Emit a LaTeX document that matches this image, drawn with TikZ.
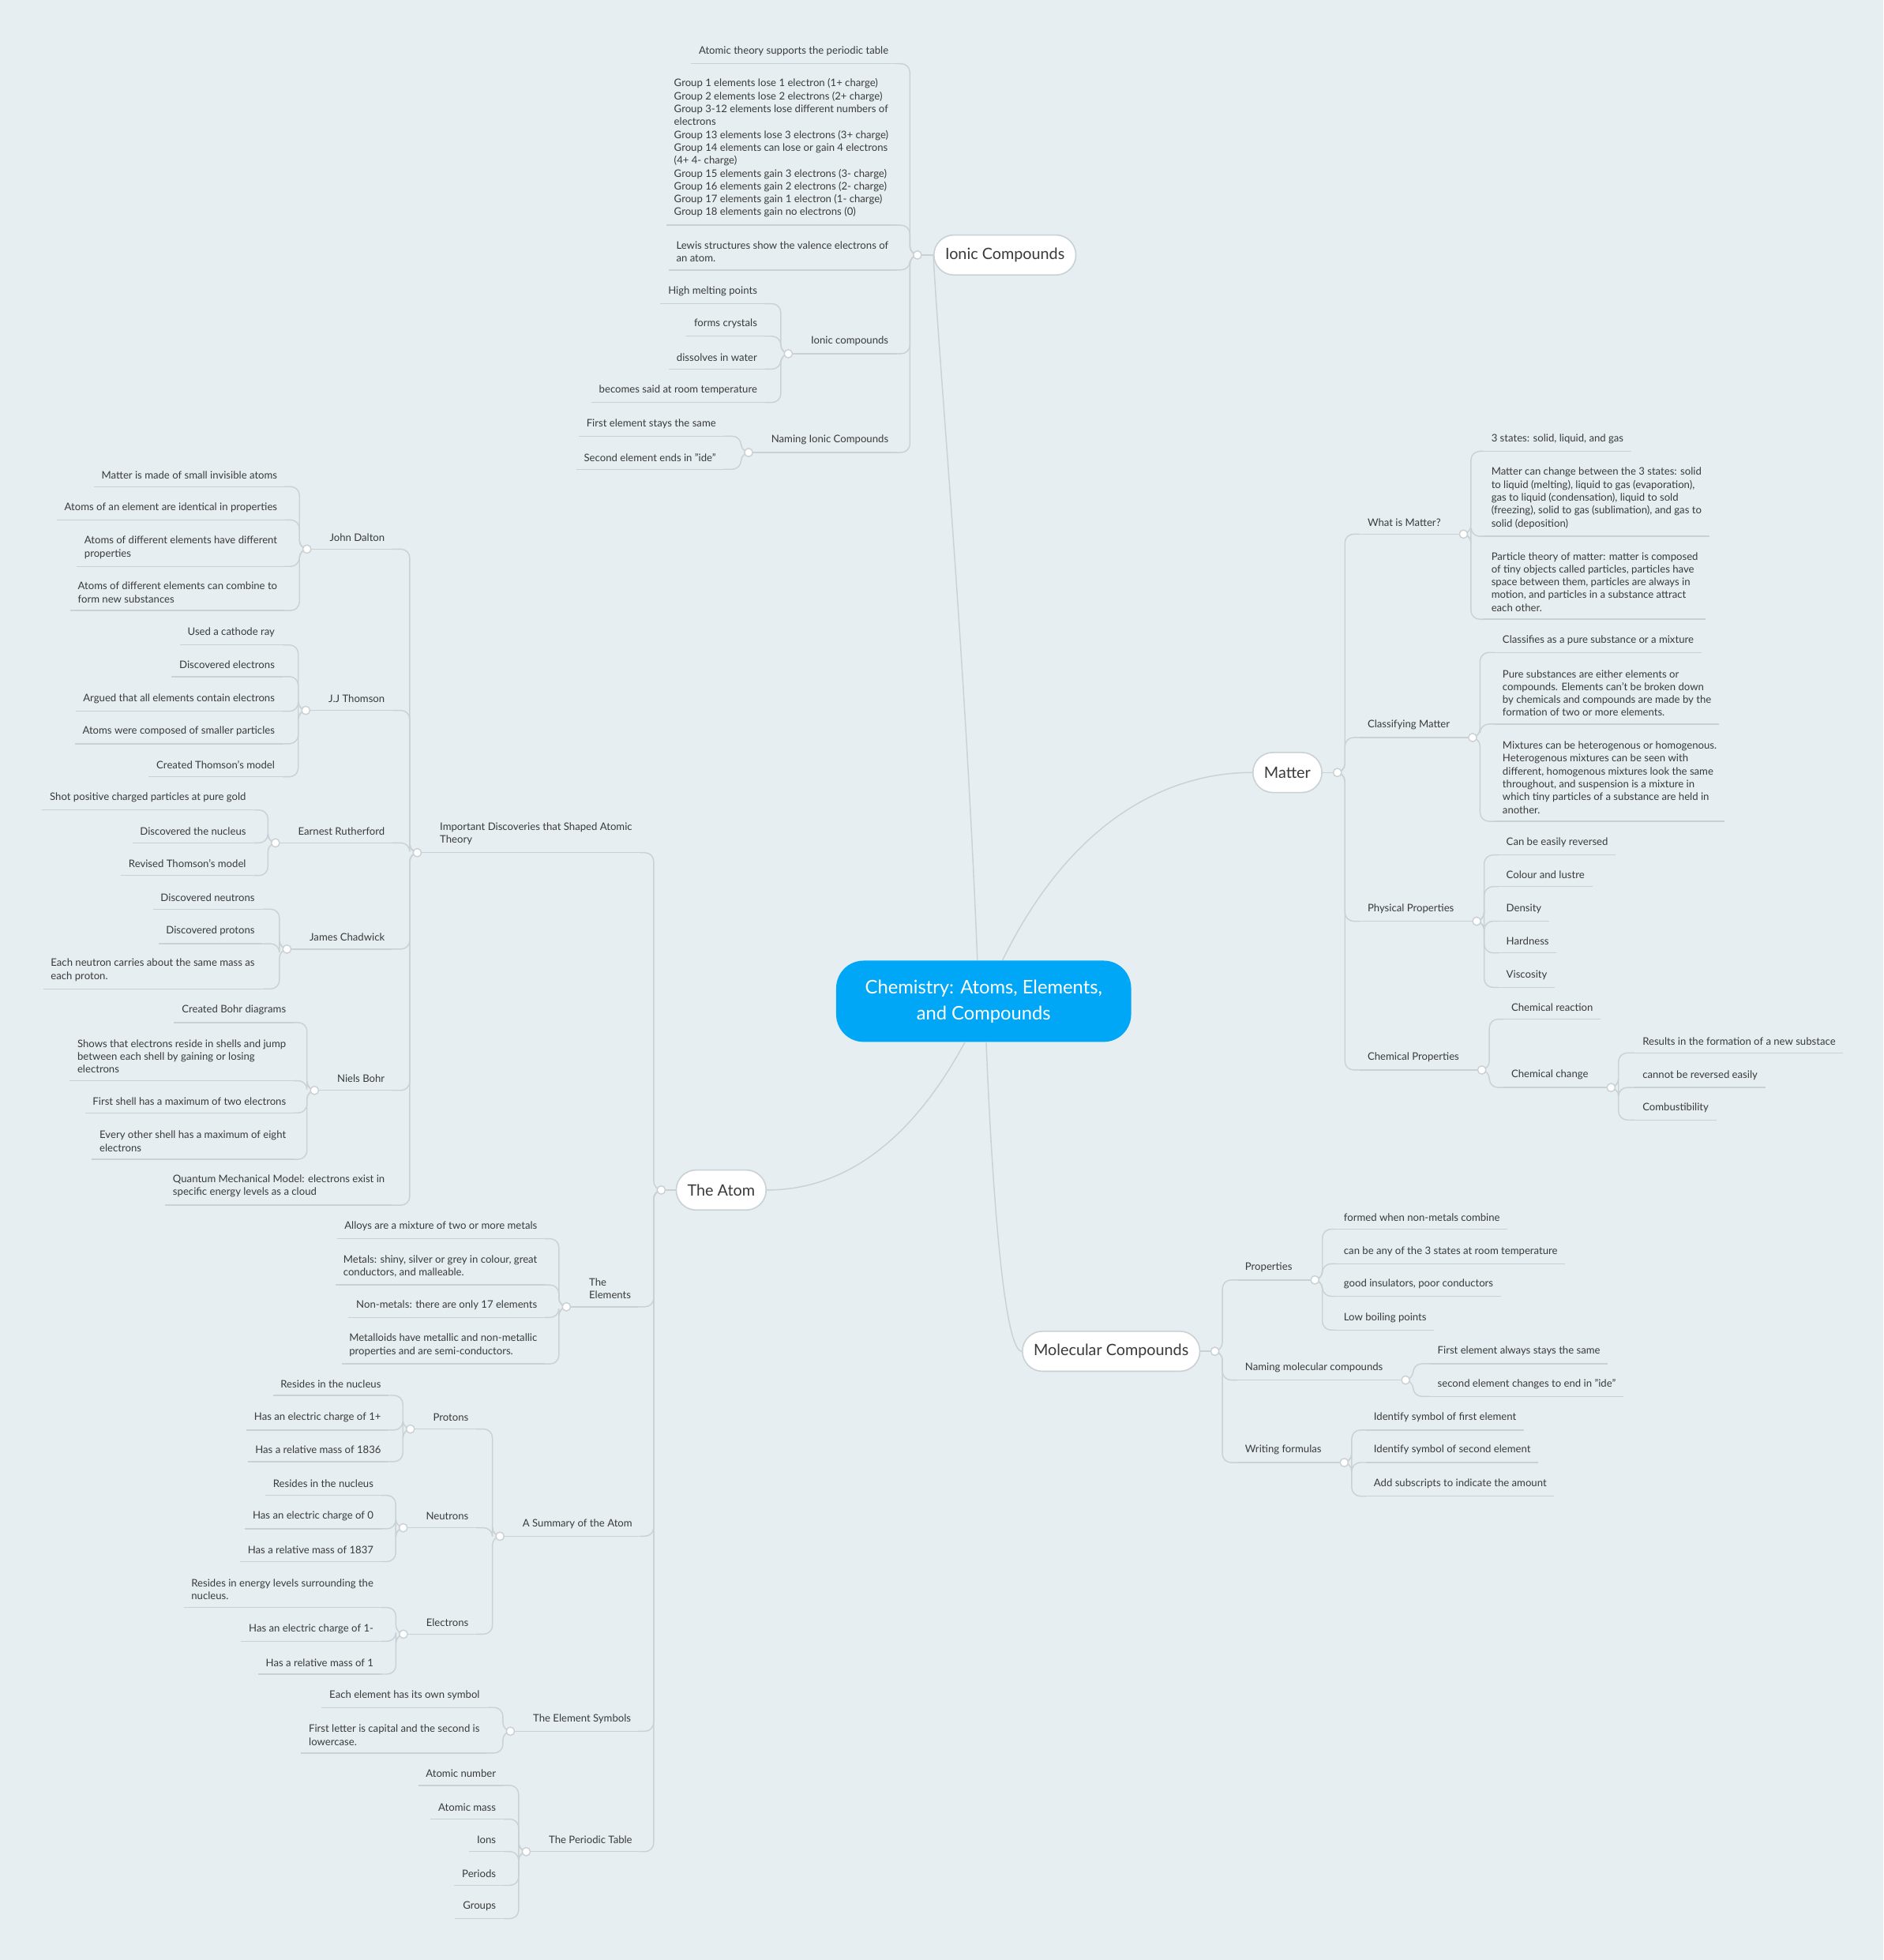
\documentclass[tikz,border=0pt]{standalone}
\usepackage{fontspec}
\setmainfont{Lato}
\definecolor{bg}{HTML}{E6EEF1}
\definecolor{lnc}{HTML}{C9D1D5}
\definecolor{txc}{HTML}{3A3A3A}
\definecolor{ctc}{HTML}{00A7F7}
\tikzset{
 txt/.style={font=\fontsize{8.3}{10.3}\selectfont,text=txc,align=left,inner xsep=6pt,inner ysep=6pt},
 ln/.style={draw=lnc,line width=0.9pt},
 jc/.style={draw=lnc,fill=white,line width=0.9pt},
 pill/.style={draw=lnc,line width=1pt,fill=white,rounded corners=16pt,minimum height=32pt,inner xsep=9pt,font=\fontsize{12.5}{14}\selectfont,text=txc},
}
\newcommand\LN[4]{\node[txt,anchor=east] (#1) at (#2+6,#3) {#4};}
\newcommand\RN[4]{\node[txt,anchor=west] (#1) at (#2-6,#3) {#4};}
\newcommand\UL[1]{\draw[ln] (#1.south west) -- (#1.south east);}
\newcommand\JL[2]{\coordinate (#1) at ([xshift=-12pt]#2.south west); \draw[ln] (#1) -- (#2.south east);}
\newcommand\JR[2]{\coordinate (#1) at ([xshift=12pt]#2.south east); \draw[ln] (#2.south west) -- (#1);}
\newcommand\CL[2]{\draw[ln,rounded corners=7pt] (#2.south east) -| ([xshift=-6pt]#1) -- (#1);}
\newcommand\CR[2]{\draw[ln,rounded corners=7pt] (#2.south west) -| ([xshift=6pt]#1) -- (#1);}
\newcommand\LL[4]{\LN{#1}{#2}{#3}{#4}\UL{#1}}
\newcommand\RL[4]{\RN{#1}{#2}{#3}{#4}\UL{#1}}
\begin{document}
\begin{tikzpicture}[x={(1pt,0)},y={(0,-1pt)}]
\fill[bg] (0,0) rectangle (1507,1568);
\useasboundingbox (0,0) rectangle (1507,1568);
% central & main
\node[fill=ctc,rounded corners=22pt,minimum width=236pt,minimum height=65pt,align=center,text=white,font=\fontsize{15}{21}\selectfont] (ctr) at (787,801) {Chemistry: Atoms, Elements,\\and Compounds};
\node[pill] (ionic) at (804,204) {Ionic Compounds};
\node[pill] (matter) at (1030,618) {Matter};
\node[pill] (atom) at (577,952) {The Atom};
\node[pill] (mol) at (889,1081) {Molecular Compounds};
\coordinate (ionJ) at (734,204);
\coordinate (matJ) at (1070,618);
\coordinate (atJ) at (529,952);
\coordinate (molJ) at (972,1081);
\draw[ln] ([xshift=-5pt]ctr.north) .. controls (772,520) and (752,300) .. (ionic.west);
\draw[ln] ([xshift=15pt]ctr.north) .. controls (860,650) and (940,618) .. (matter.west);
\draw[ln] ([xshift=-15pt]ctr.south) .. controls (720,930) and (660,952) .. (atom.east);
\draw[ln] ([xshift=2pt]ctr.south) .. controls (795,980) and (805,1081) .. (mol.west);
\draw[ln] (ionic.west) -- (ionJ); \draw[ln] (matter.east) -- (matJ);
\draw[ln] (atom.west) -- (atJ); \draw[ln] (mol.east) -- (molJ);
% ---------- Ionic
\LL{i1}{711}{41}{Atomic theory supports the periodic table}
\LL{i2}{711}{118.5}{Group 1 elements lose 1 electron (1+ charge)\\Group 2 elements lose 2 electrons (2+ charge)\\Group 3-12 elements lose different numbers of\\electrons\\Group 13 elements lose 3 electrons (3+ charge)\\Group 14 elements can lose or gain 4 electrons\\(4+ 4- charge)\\Group 15 elements gain 3 electrons (3- charge)\\Group 16 elements gain 2 electrons (2- charge)\\Group 17 elements gain 1 electron (1- charge)\\Group 18 elements gain no electrons (0)}
\LL{i3}{711}{201.5}{Lewis structures show the valence electrons of\\an atom.}
\LN{i4}{711}{273}{Ionic compounds}\JL{i4J}{i4}
\LN{i5}{711}{352}{Naming Ionic Compounds}\JL{i5J}{i5}
\foreach \c in {i1,i2,i3,i4,i5} {\CL{ionJ}{\c}}
\LL{i41}{606}{233}{High melting points}
\LL{i42}{606}{259}{forms crystals}
\LL{i43}{606}{286}{dissolves in water}
\LL{i44}{606}{312}{becomes said at room temperature}
\foreach \c in {i41,i42,i43,i44} {\CL{i4J}{\c}}
\LL{i51}{573}{339}{First element stays the same}
\LL{i52}{573}{366}{Second element ends in "ide"}
\foreach \c in {i51,i52} {\CL{i5J}{\c}}
% ---------- The Atom
\LN{a1}{506}{667}{Important Discoveries that Shaped Atomic\\Theory}\JL{a1J}{a1}
\LN{a2}{505}{1031}{The\\Elements}\JL{a2J}{a2}
\LN{a3}{506}{1219}{A Summary of the Atom}\JL{a3J}{a3}
\LN{a4}{505}{1375}{The Element Symbols}\JL{a4J}{a4}
\LN{a5}{506}{1472}{The Periodic Table}\JL{a5J}{a5}
\foreach \c in {a1,a2,a3,a4,a5} {\CL{atJ}{\c}}
% discoveries
\LN{d1}{308}{430}{John Dalton}\JL{d1J}{d1}
\LN{d2}{308}{559}{J.J Thomson}\JL{d2J}{d2}
\LN{d3}{308}{665}{Earnest Rutherford}\JL{d3J}{d3}
\LN{d4}{308}{750}{James Chadwick}\JL{d4J}{d4}
\LN{d5}{308}{863}{Niels Bohr}\JL{d5J}{d5}
\LL{d6}{308}{949}{Quantum Mechanical Model: electrons exist in\\specific energy levels as a cloud}
\foreach \c in {d1,d2,d3,d4,d5,d6} {\CL{a1J}{\c}}
\LL{d11}{222}{380}{Matter is made of small invisible atoms}
\LL{d12}{222}{406}{Atoms of an element are identical in properties}
\LL{d13}{222}{438}{Atoms of different elements have different\\properties}
\LL{d14}{222}{474}{Atoms of different elements can combine to\\form new substances}
\foreach \c in {d11,d12,d13,d14} {\CL{d1J}{\c}}
\LL{d21}{220}{506}{Used a cathode ray}
\LL{d22}{220}{532}{Discovered electrons}
\LL{d23}{220}{559}{Argued that all elements contain electrons}
\LL{d24}{220}{585}{Atoms were composed of smaller particles}
\LL{d25}{220}{612}{Created Thomson's model}
\foreach \c in {d21,d22,d23,d24,d25} {\CL{d2J}{\c}}
\LL{d31}{197}{638}{Shot positive charged particles at pure gold}
\LL{d32}{197}{665}{Discovered the nucleus}
\LL{d33}{197}{691}{Revised Thomson's model}
\foreach \c in {d31,d32,d33} {\CL{d3J}{\c}}
\LL{d41}{204}{718}{Discovered neutrons}
\LL{d42}{204}{745}{Discovered protons}
\LL{d43}{204}{776}{Each neutron carries about the same mass as\\each proton.}
\foreach \c in {d41,d42,d43} {\CL{d4J}{\c}}
\LL{d51}{229}{808}{Created Bohr diagrams}
\LL{d52}{229}{845}{Shows that electrons reside in shells and jump\\between each shell by gaining or losing\\electrons}
\LL{d53}{229}{881}{First shell has a maximum of two electrons}
\LL{d54}{229}{913}{Every other shell has a maximum of eight\\electrons}
\foreach \c in {d51,d52,d53,d54} {\CL{d5J}{\c}}
% elements
\LL{e1}{430}{981}{Alloys are a mixture of two or more metals}
\LL{e2}{430}{1013}{Metals: shiny, silver or grey in colour, great\\conductors, and malleable.}
\LL{e3}{430}{1044}{Non-metals: there are only 17 elements}
\LL{e4}{430}{1076}{Metalloids have metallic and non-metallic\\properties and are semi-conductors.}
\foreach \c in {e1,e2,e3,e4} {\CL{a2J}{\c}}
% summary
\LN{s1}{375}{1134}{Protons}\JL{s1J}{s1}
\LN{s2}{375}{1213}{Neutrons}\JL{s2J}{s2}
\LN{s3}{375}{1298}{Electrons}\JL{s3J}{s3}
\foreach \c in {s1,s2,s3} {\CL{a3J}{\c}}
\LL{s11}{305}{1107}{Resides in the nucleus}
\LL{s12}{305}{1134}{Has an electric charge of 1+}
\LL{s13}{305}{1160}{Has a relative mass of 1836}
\foreach \c in {s11,s12,s13} {\CL{s1J}{\c}}
\LL{s21}{299}{1187}{Resides in the nucleus}
\LL{s22}{299}{1213}{Has an electric charge of 0}
\LL{s23}{299}{1240}{Has a relative mass of 1837}
\foreach \c in {s21,s22,s23} {\CL{s2J}{\c}}
\LL{s31}{299}{1271.5}{Resides in energy levels surrounding the\\nucleus.}
\LL{s32}{299}{1303}{Has an electric charge of 1-}
\LL{s33}{299}{1330}{Has a relative mass of 1}
\foreach \c in {s31,s32,s33} {\CL{s3J}{\c}}
% symbols
\LL{y1}{384}{1356}{Each element has its own symbol}
\LL{y2}{384}{1388}{First letter is capital and the second is\\lowercase.}
\foreach \c in {y1,y2} {\CL{a4J}{\c}}
% periodic
\LL{p1}{397}{1419}{Atomic number}
\LL{p2}{397}{1446}{Atomic mass}
\LL{p3}{397}{1472}{Ions}
\LL{p4}{397}{1499}{Periods}
\LL{p5}{397}{1525}{Groups}
\foreach \c in {p1,p2,p3,p4,p5} {\CL{a5J}{\c}}
% ---------- Matter
\RN{m1}{1094}{418}{What is Matter?}\JR{m1J}{m1}
\RN{m2}{1094}{580}{Classifying Matter}\JR{m2J}{m2}
\RN{m3}{1094}{727}{Physical Properties}\JR{m3J}{m3}
\RN{m4}{1094}{846}{Chemical Properties}\JR{m4J}{m4}
\foreach \c in {m1,m2,m3,m4} {\CR{matJ}{\c}}
\RL{m11}{1193}{351}{3 states: solid, liquid, and gas}
\RL{m12}{1193}{398.5}{Matter can change between the 3 states: solid\\to liquid (melting), liquid to gas (evaporation),\\gas to liquid (condensation), liquid to sold\\(freezing), solid to gas (sublimation), and gas to\\solid (deposition)}
\RL{m13}{1193}{465.5}{Particle theory of matter: matter is composed\\of tiny objects called particles, particles have\\space between them, particles are always in\\motion, and particles in a substance attract\\each other.}
\foreach \c in {m11,m12,m13} {\CR{m1J}{\c}}
\RL{m21}{1202}{512}{Classifies as a pure substance or a mixture}
\RL{m22}{1202}{554.5}{Pure substances are either elements or\\compounds. Elements can't be broken down\\by chemicals and compounds are made by the\\formation of two or more elements.}
\RL{m23}{1202}{622}{Mixtures can be heterogenous or homogenous.\\Heterogenous mixtures can be seen with\\different, homogenous mixtures look the same\\throughout, and suspension is a mixture in\\which tiny particles of a substance are held in\\another.}
\foreach \c in {m21,m22,m23} {\CR{m2J}{\c}}
\RL{m31}{1205}{674}{Can be easily reversed}
\RL{m32}{1205}{700}{Colour and lustre}
\RL{m33}{1205}{727}{Density}
\RL{m34}{1205}{753}{Hardness}
\RL{m35}{1205}{780}{Viscosity}
\foreach \c in {m31,m32,m33,m34,m35} {\CR{m3J}{\c}}
\RL{m41}{1209}{806}{Chemical reaction}
\RN{m42}{1209}{860}{Chemical change}\JR{m42J}{m42}
\foreach \c in {m41,m42} {\CR{m4J}{\c}}
\RL{m421}{1314}{833}{Results in the formation of a new substace}
\RL{m422}{1314}{860}{cannot be reversed easily}
\RL{m423}{1314}{886}{Combustibility}
\foreach \c in {m421,m422,m423} {\CR{m42J}{\c}}
% ---------- Molecular
\RN{o1}{996}{1014}{Properties}\JR{o1J}{o1}
\RN{o2}{996}{1094}{Naming molecular compounds}\JR{o2J}{o2}
\RN{o3}{996}{1160}{Writing formulas}\JR{o3J}{o3}
\foreach \c in {o1,o2,o3} {\CR{molJ}{\c}}
\RL{o11}{1075}{974}{formed when non-metals combine}
\RL{o12}{1075}{1001}{can be any of the 3 states at room temperature}
\RL{o13}{1075}{1027}{good insulators, poor conductors}
\RL{o14}{1075}{1054}{Low boiling points}
\foreach \c in {o11,o12,o13,o14} {\CR{o1J}{\c}}
\RL{o21}{1150}{1081}{First element always stays the same}
\RL{o22}{1150}{1107}{second element changes to end in "ide"}
\foreach \c in {o21,o22} {\CR{o2J}{\c}}
\RL{o31}{1099}{1134}{Identify symbol of first element}
\RL{o32}{1099}{1160}{Identify symbol of second element}
\RL{o33}{1099}{1187}{Add subscripts to indicate the amount}
\foreach \c in {o31,o32,o33} {\CR{o3J}{\c}}
% junction circles
\foreach \j in {ionJ,matJ,atJ,molJ,i4J,i5J,a1J,a2J,a3J,a4J,a5J,d1J,d2J,d3J,d4J,d5J,s1J,s2J,s3J,m1J,m2J,m3J,m4J,m42J,o1J,o2J,o3J}
 {\draw[jc] (\j) circle (3.3pt);}
\end{tikzpicture}
\end{document}
